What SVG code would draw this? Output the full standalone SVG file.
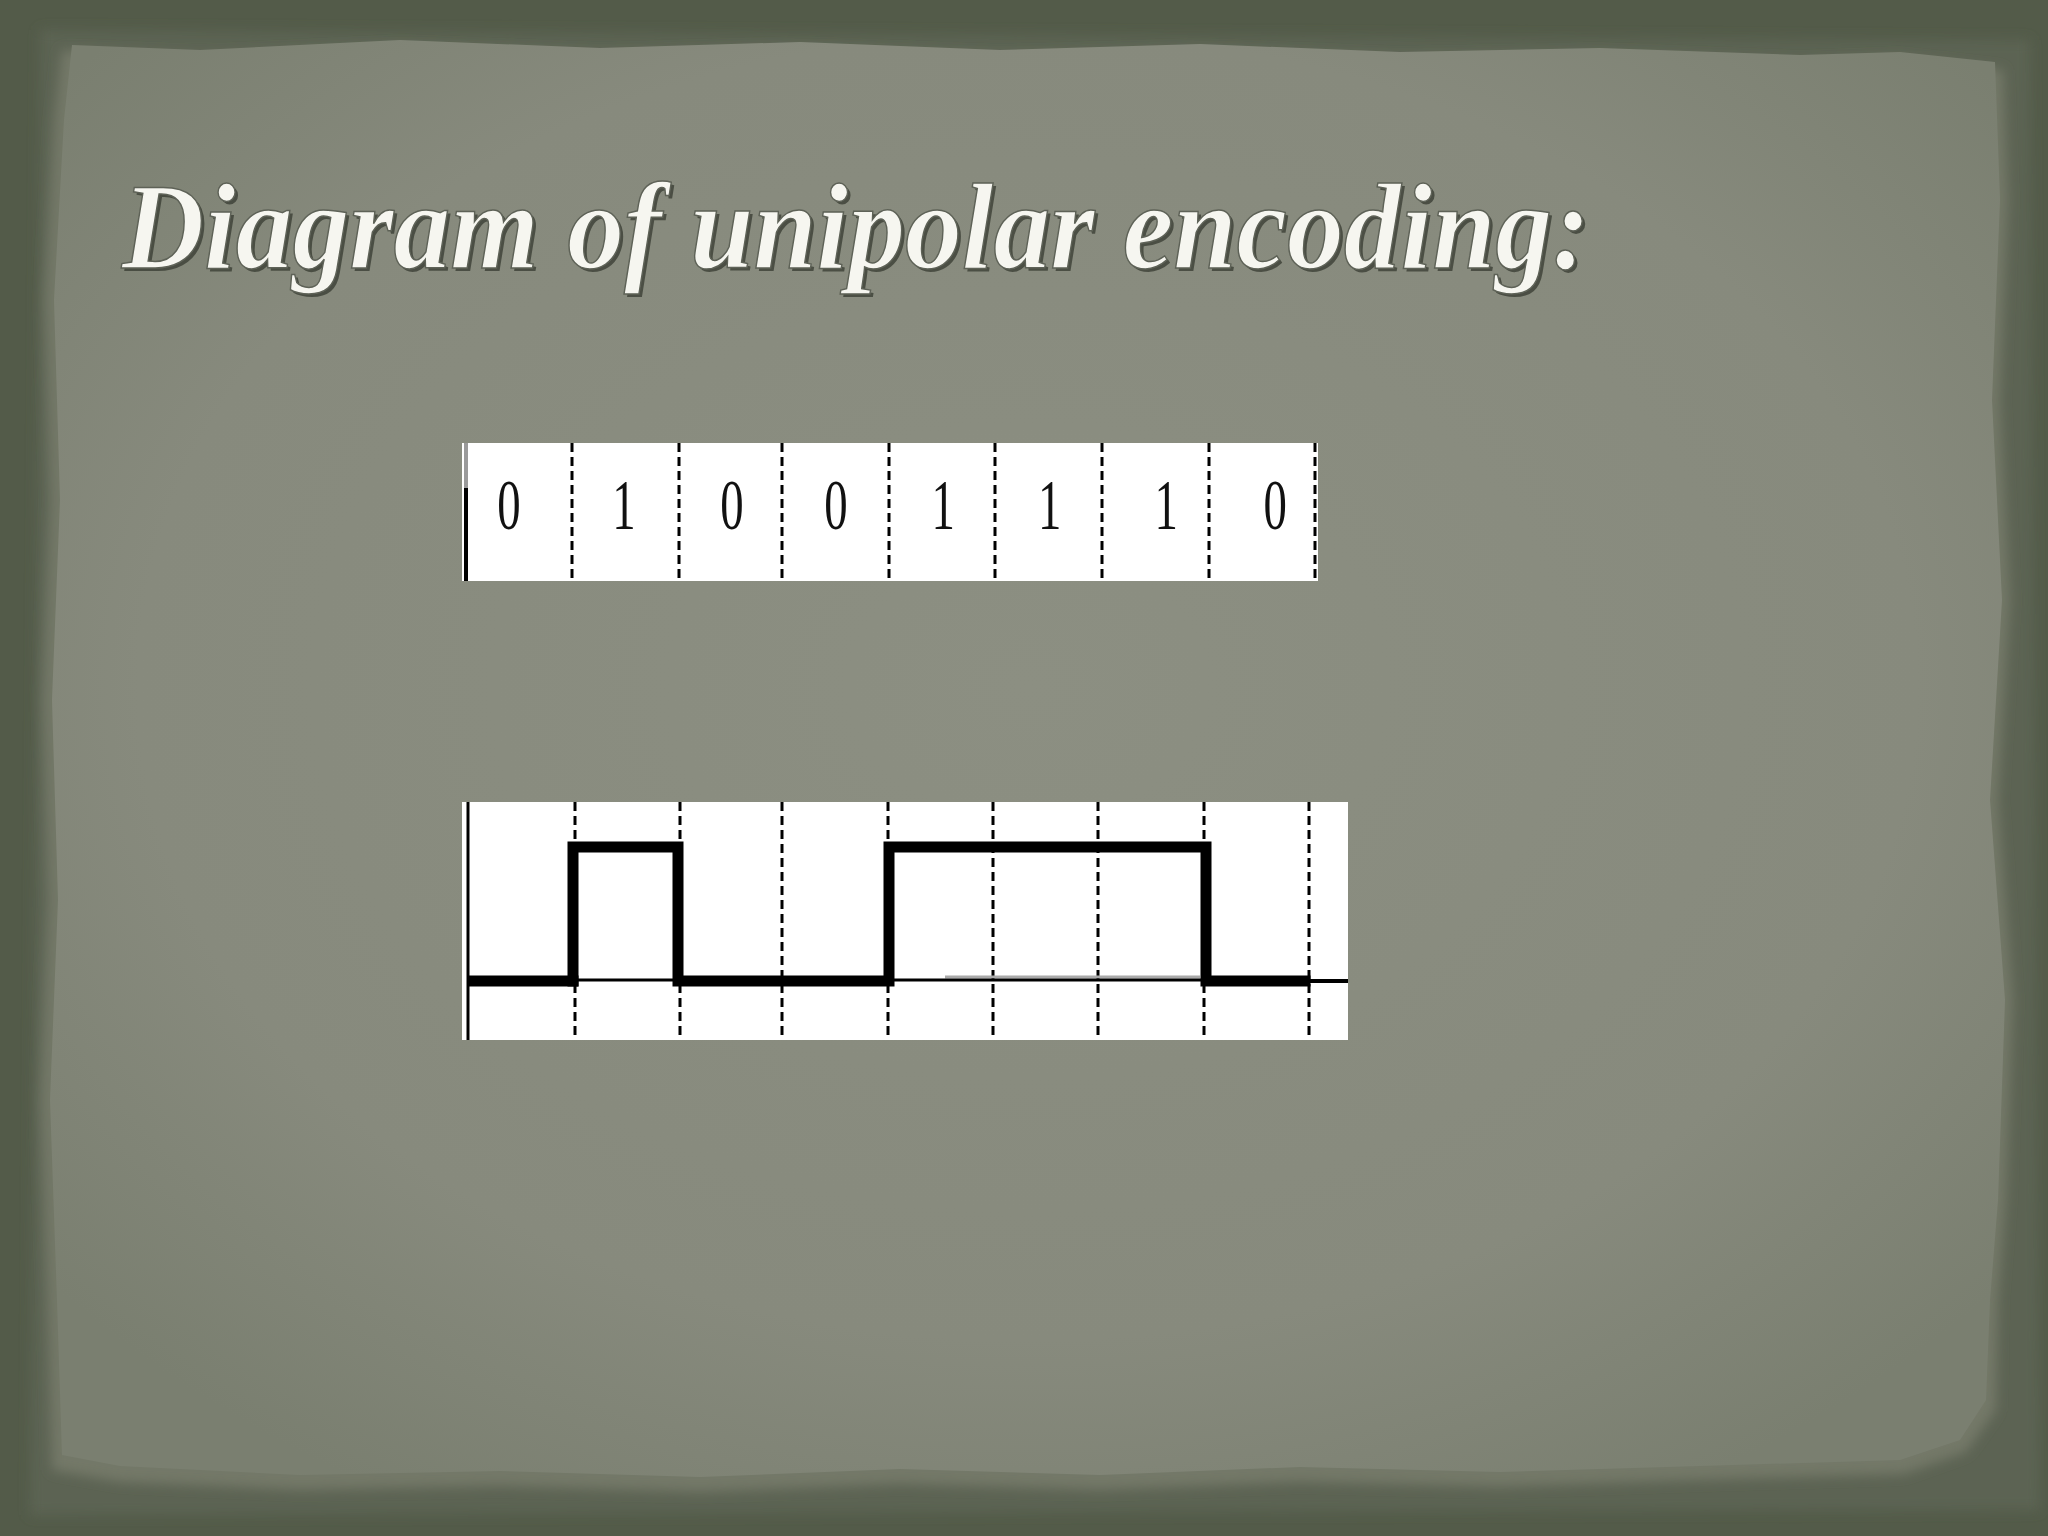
<svg xmlns="http://www.w3.org/2000/svg" width="2048" height="1536" viewBox="0 0 2048 1536">
  <defs>
    <radialGradient id="paper" cx="50%" cy="45%" r="65%">
      <stop offset="0" stop-color="#8c8f82"/>
      <stop offset="0.7" stop-color="#878a7d"/>
      <stop offset="1" stop-color="#7a7f70"/>
    </radialGradient>
    <filter id="soft" x="-5%" y="-5%" width="110%" height="110%">
      <feGaussianBlur stdDeviation="6"/>
    </filter>
    <style>
      .dash { stroke:#000; stroke-width:3; stroke-dasharray:9 5; fill:none; }
      .digit { font-family:"Liberation Serif", "Times New Roman", serif; font-size:72px; fill:#111; text-anchor:middle; }
      .title { font-family:"Liberation Serif", "Times New Roman", serif; font-style:italic; font-weight:bold; font-size:122px; }
      .wave { stroke:#000; fill:none; stroke-width:11; stroke-linejoin:miter; stroke-linecap:square; }
    </style>
  </defs>

  <!-- background -->
  <rect x="0" y="0" width="2048" height="1536" fill="#535b49"/>
  <path d="M40 30 L2030 40 L2040 1510 L30 1515 Z" fill="#5c6352" filter="url(#soft)"/>
  <path d="M62 50 L200 56 L400 46 L600 54 L800 48 L1000 56 L1200 50 L1400 58 L1600 54 L1800 62 L1900 58 L2003 70 L2008 200 L2000 400 L2010 600 L1998 800 L2013 1000 L2006 1200 L1998 1300 L1996 1410 L1966 1452 L1904 1474 L1700 1480 L1500 1487 L1300 1482 L1100 1490 L900 1484 L700 1492 L500 1486 L300 1490 L120 1482 L52 1470 L47 1300 L40 1100 L48 900 L42 700 L50 500 L44 300 L54 120 Z" fill="#737868" filter="url(#soft)"/>
  <path d="M72 45 L200 50 L400 40 L600 48 L800 42 L1000 50 L1200 44 L1400 52 L1600 48 L1800 55 L1900 52 L1995 62 L2000 200 L1992 400 L2002 600 L1990 800 L2005 1000 L1998 1200 L1990 1300 L1986 1400 L1960 1440 L1900 1460 L1700 1466 L1500 1472 L1300 1467 L1100 1475 L900 1469 L700 1477 L500 1471 L300 1475 L120 1466 L62 1455 L57 1300 L50 1100 L58 900 L52 700 L60 500 L54 300 L64 120 Z" fill="url(#paper)"/>

  <!-- title -->
  <g id="title">
    <text class="title" x="125" y="271" textLength="1468" lengthAdjust="spacingAndGlyphs" fill="#3c4036" opacity="0.8">Diagram of unipolar encoding:</text>
    <text class="title" x="122" y="268" textLength="1468" lengthAdjust="spacingAndGlyphs" fill="#f6f6f0" stroke="#5e6257" stroke-width="1.5">Diagram of unipolar encoding:</text>
  </g>

  <!-- bit table -->
  <g id="bits">
    <rect x="462" y="443" width="856" height="138" fill="#ffffff"/>
    <line x1="466" y1="443" x2="466" y2="488" stroke="#9a9a9a" stroke-width="4"/>
    <line x1="466" y1="488" x2="466" y2="581" stroke="#000" stroke-width="4"/>
    <line class="dash" x1="572" y1="443" x2="572" y2="581"/>
    <line class="dash" x1="679" y1="443" x2="679" y2="581"/>
    <line class="dash" x1="782" y1="443" x2="782" y2="581"/>
    <line class="dash" x1="889" y1="443" x2="889" y2="581"/>
    <line class="dash" x1="995" y1="443" x2="995" y2="581"/>
    <line class="dash" x1="1102" y1="443" x2="1102" y2="581"/>
    <line class="dash" x1="1209" y1="443" x2="1209" y2="581"/>
    <line class="dash" x1="1315" y1="443" x2="1315" y2="581"/>
    <g transform="scale(0.65,1)">
      <text class="digit" x="783" y="529">0</text>
      <text class="digit" x="960" y="529">1</text>
      <text class="digit" x="1126" y="529">0</text>
      <text class="digit" x="1286" y="529">0</text>
      <text class="digit" x="1451" y="529">1</text>
      <text class="digit" x="1615" y="529">1</text>
      <text class="digit" x="1794" y="529">1</text>
      <text class="digit" x="1962" y="529">0</text>
    </g>
  </g>

  <!-- waveform -->
  <g id="waveform">
    <rect x="462" y="802" width="886" height="238" fill="#ffffff"/>
    <line x1="468" y1="802" x2="468" y2="1040" stroke="#000" stroke-width="3"/>
    <line class="dash" x1="575" y1="802" x2="575" y2="1040"/>
    <line class="dash" x1="680" y1="802" x2="680" y2="1040"/>
    <line class="dash" x1="782" y1="802" x2="782" y2="1040"/>
    <line class="dash" x1="888" y1="802" x2="888" y2="1040"/>
    <line class="dash" x1="993" y1="802" x2="993" y2="1040"/>
    <line class="dash" x1="1098" y1="802" x2="1098" y2="1040"/>
    <line class="dash" x1="1204" y1="802" x2="1204" y2="1040"/>
    <line class="dash" x1="1309" y1="802" x2="1309" y2="1040"/>
    <line x1="945" y1="977" x2="1200" y2="977" stroke="#aaaaaa" stroke-width="3"/>
    <line x1="573" y1="980" x2="678" y2="980" stroke="#000" stroke-width="3"/>
    <line x1="889" y1="980" x2="1206" y2="980" stroke="#000" stroke-width="3"/>
    <line x1="1309" y1="981" x2="1348" y2="981" stroke="#000" stroke-width="4"/>
  </g>
  <g id="connectors">
    <polyline class="wave" points="474,981 573,981"/>
    <polyline class="wave" points="573,981 573,847 678,847 678,981 889,981 889,847 1206,847 1206,981 1305,981"/>
  </g>
</svg>
